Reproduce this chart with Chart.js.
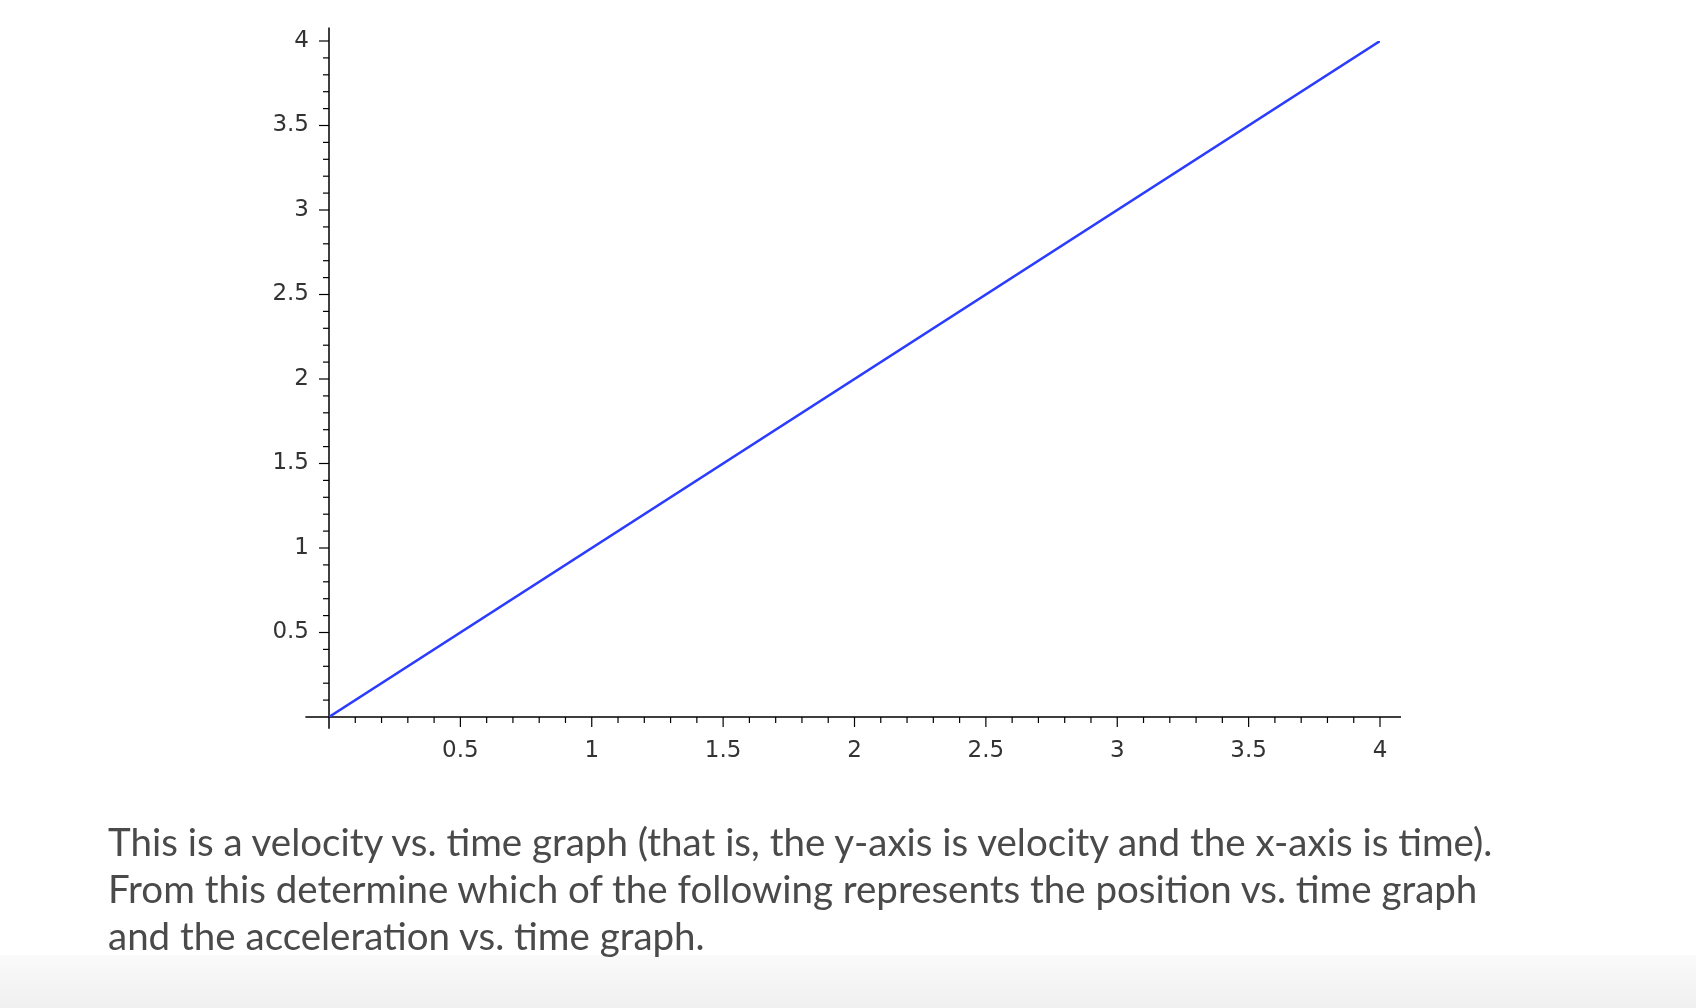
<!DOCTYPE html>
<html><head><meta charset="utf-8">
<script src="https://cdn.jsdelivr.net/npm/chart.js@4"></script>
<style>
html,body{margin:0;padding:0;background:#fff;width:1696px;height:1008px;overflow:hidden;position:relative}
#wrap{position:absolute;left:0;top:0;width:1696px;height:1008px}
#txt{position:absolute;left:108px;top:818px;font-family:Lato,sans-serif;font-size:38.5px;line-height:47px;color:#4a4a4a;width:1580px;white-space:nowrap}
#band{position:absolute;left:0;top:955px;width:1696px;height:53px;background:linear-gradient(#fafafa,#f0f0f0)}
</style></head><body>
<div id="wrap"><canvas id="c" width="1696" height="1008"></canvas></div>
<div id="band"></div>
<div id="txt">This is a velocity vs. time graph (that is, the y-axis is velocity and the x-axis is time).<br>From this determine which of the following represents the position vs. time graph<br>and the acceleration vs. time graph.</div>
<script>
const timeValues=[0,4];
const velocityValues=[0,4];
const xTickLabels=['0.5','1','1.5','2','2.5','3','3.5','4'];
const yTickLabels=['0.5','1','1.5','2','2.5','3','3.5','4'];
const axesPlugin={id:'sageAxes',beforeDatasetsDraw(ch){
 const c=ch.ctx,x=ch.scales.x,y=ch.scales.y;
 const x0=x.getPixelForValue(0),y0=y.getPixelForValue(0);
 c.save();c.strokeStyle='#000';c.lineWidth=1.5;
 c.beginPath();c.moveTo(x.getPixelForValue(-0.09),y0);c.lineTo(x.getPixelForValue(4.08),y0);
 c.moveTo(x0,y.getPixelForValue(4.08));c.lineTo(x0,y.getPixelForValue(-0.07));c.stroke();
 c.lineWidth=1.2;
 for(let i=1;i<=40;i++){const v=i/10,maj=i%5===0;const px=x.getPixelForValue(v);
  c.beginPath();c.moveTo(px,y0);c.lineTo(px,y0+(maj?10:6));c.stroke();
  const py=y.getPixelForValue(v);c.beginPath();c.moveTo(x0,py);c.lineTo(x0-(maj?10:6),py);c.stroke();}
 c.fillStyle='#333';c.font='23px "DejaVu Sans"';
 c.textAlign='center';c.textBaseline='middle';
 xTickLabels.forEach(t=>c.fillText(t,x.getPixelForValue(parseFloat(t)),y0+34));
 c.textAlign='right';
 yTickLabels.forEach(t=>c.fillText(t,x0-20,y.getPixelForValue(parseFloat(t))));
 c.restore();}};
new Chart(document.getElementById('c'),{type:'line',
 data:{datasets:[{data:timeValues.map((t,i)=>({x:t,y:velocityValues[i]})),borderColor:'#2b3cff',borderWidth:2.5,pointRadius:0,tension:0}]},
 options:{responsive:false,animation:false,layout:{padding:{left:329,right:316,top:41,bottom:291}},
  plugins:{legend:{display:false},tooltip:{enabled:false}},
  scales:{x:{type:'linear',min:0,max:4,display:false},y:{type:'linear',min:0,max:4,display:false}}},
 plugins:[axesPlugin]});
</script></body></html>
